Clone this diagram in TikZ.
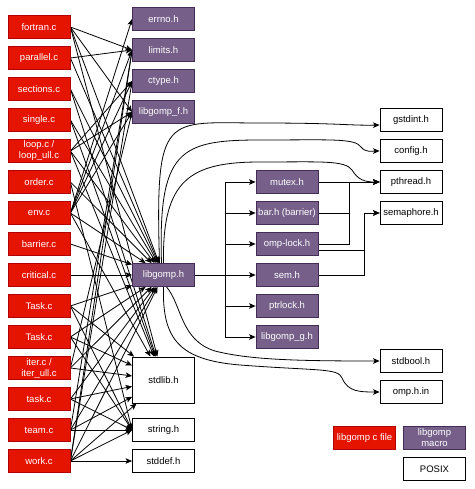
\documentclass[tikz,border=0pt]{standalone}
\usepackage{fontspec}
\setmainfont{Liberation Sans}
\usetikzlibrary{arrows.meta,backgrounds}
\definecolor{cred}{HTML}{E51400}
\definecolor{credd}{HTML}{B20000}
\definecolor{cpur}{HTML}{76608A}
\definecolor{cpurd}{HTML}{432D57}
\begin{document}
\begin{tikzpicture}[x=1pt,y=-1pt,
  box/.style={minimum width=62pt, minimum height=23pt, inner sep=0pt, align=center,
    font=\fontsize{9.5}{11}\selectfont, line width=0.8pt},
  cfile/.style={box, fill=cred, draw=credd, text=white},
  macro/.style={box, fill=cpur, draw=cpurd, text=white},
  posix/.style={box, fill=white, draw=black},
  edge/.style={line width=0.8pt, -{Stealth[length=6.5pt,width=5.5pt,inset=1.5pt]}},
]
\useasboundingbox (0,0) rectangle (474,489);
% C files
\node[cfile] (fortran) at (39,27) {fortran.c};
\node[cfile] (parallel) at (39,58) {parallel.c};
\node[cfile] (sections) at (39,89) {sections.c};
\node[cfile] (single) at (39,120) {single.c};
\node[cfile] (loop) at (39,151) {loop.c /\\loop\_ull.c};
\node[cfile] (order) at (39,182) {order.c};
\node[cfile] (env) at (39,213) {env.c};
\node[cfile] (barrier) at (39,244) {barrier.c};
\node[cfile] (critical) at (39,275) {critical.c};
\node[cfile] (taskA) at (39,306) {Task.c};
\node[cfile] (taskB) at (39,337) {Task.c};
\node[cfile] (iter) at (39,368) {iter.c /\\iter\_ull.c};
\node[cfile] (taskc) at (39,399) {task.c};
\node[cfile] (team) at (39,430) {team.c};
\node[cfile] (work) at (39,461) {work.c};
% headers
\node[macro] (errno) at (163.5,19) {errno.h};
\node[macro] (limits) at (163.5,50) {limits.h};
\node[macro] (ctype) at (163.5,81) {ctype.h};
\node[macro] (lgf) at (163.5,112) {libgomp\_f.h};
\node[macro] (lg) at (163.5,275) {libgomp.h};
\node[posix, minimum height=46pt] (stdlib) at (163.5,380) {stdlib.h};
\node[posix] (string) at (163.5,430) {string.h};
\node[posix] (stddef) at (163.5,461) {stddef.h};
% middle
\node[macro] (mutex) at (287,182) {mutex.h};
\node[macro] (bar) at (287,213) {bar.h (barrier)};
\node[macro] (omplock) at (287,244) {omp-lock.h};
\node[macro] (sem) at (287,275) {sem.h};
\node[macro] (ptrlock) at (287,306) {ptrlock.h};
\node[macro] (lgg) at (287,337) {libgomp\_g.h};
% right
\node[posix] (gstdint) at (411,120) {gstdint.h};
\node[posix] (config) at (411,151) {config.h};
\node[posix] (pthread) at (411,182) {pthread.h};
\node[posix] (semaphore) at (411,213) {semaphore.h};
\node[posix] (stdbool) at (411,361) {stdbool.h};
\node[posix] (omphin) at (411,392) {omp.h.in};
% legend
\node[cfile] (legc) at (364.5,438) {libgomp c file};
\node[macro] (legm) at (434.5,438) {libgomp\\macro};
\node[posix] (legp) at (434.5,469) {POSIX};

\begin{pgfonlayer}{background}
% left edges to fixed west anchors
\foreach \s/\t in {fortran/limits, fortran/lgf, parallel/limits,
  loop/ctype, loop/lgf,
  env/errno, env/limits, env/ctype, env/lgf,
  iter/lgf, team/limits, work/limits, work/ctype,
  order/string, taskA/string, taskB/string, taskc/string, team/string, work/string, work/stddef}
  \draw[edge] (\s.east) -- (\t.west);
% left edges to floating targets
\foreach \s/\t in {fortran/lg, fortran/stdlib,
  parallel/lg, sections/lg, sections/stdlib,
  single/lg, single/stdlib, loop/lg, loop/stdlib,
  order/lg, env/lg, env/stdlib, barrier/lg, critical/lg,
  taskA/lg, taskA/stdlib, taskB/lg, taskB/stdlib,
  iter/lg, iter/stdlib, taskc/lg, taskc/stdlib,
  team/lg, team/stdlib, work/lg, work/stdlib}
  \draw[edge] (\s.east) -- (\t);

% middle tree
\coordinate (tr) at (225,275);
\draw[edge] (lg.east) -- (sem.west);
\foreach \t in {mutex, bar, omplock, ptrlock, lgg}
  \draw[edge] (tr) |- (\t.west);
\coordinate (jp) at (349,182);
\coordinate (js) at (364,213);
\draw[edge] (mutex.east) -- (pthread.west);
\draw[edge] (bar.east) -| (jp) -- (pthread.west);
\draw[edge] (omplock.east) -| (jp) -- (pthread.west);
\draw[edge] ([yshift=-6pt]omplock.east) -| (js) -- (semaphore.west);
\draw[edge] (sem.east) -| (js) -- (semaphore.west);

% curves top
\draw[edge] ([xshift=-4pt]lg.north) .. controls (155,110) and (165,123) .. (260,123)
  .. controls (340,123) and (350,125.7) .. ([yshift=-5pt]gstdint.west);
\draw[edge] ([xshift=-2pt]lg.north) .. controls (158,150) and (180,140) .. (260,140)
  .. controls (330,140) and (355,138) .. (361,147) .. controls (366,153) and (372,151) .. (config.west);
\draw[edge] (lg.north) .. controls (162,180) and (190,162) .. (260,162)
  .. controls (320,162) and (345,160) .. (352,170) .. controls (358,180) and (365,182) .. (pthread.west);
% curves bottom
\draw[edge] ([xshift=3pt]lg.south) .. controls (182,305) and (180,340) .. (215,351)
  .. controls (250,360) and (300,361) .. (stdbool.west);
\draw[edge] (lg.south) .. controls (162,340) and (180,360) .. (240,365)
  .. controls (320,371) and (338,368) .. (342,378) .. controls (348,392) and (360,392) .. (omphin.west);
\end{pgfonlayer}
\end{tikzpicture}
\end{document}
